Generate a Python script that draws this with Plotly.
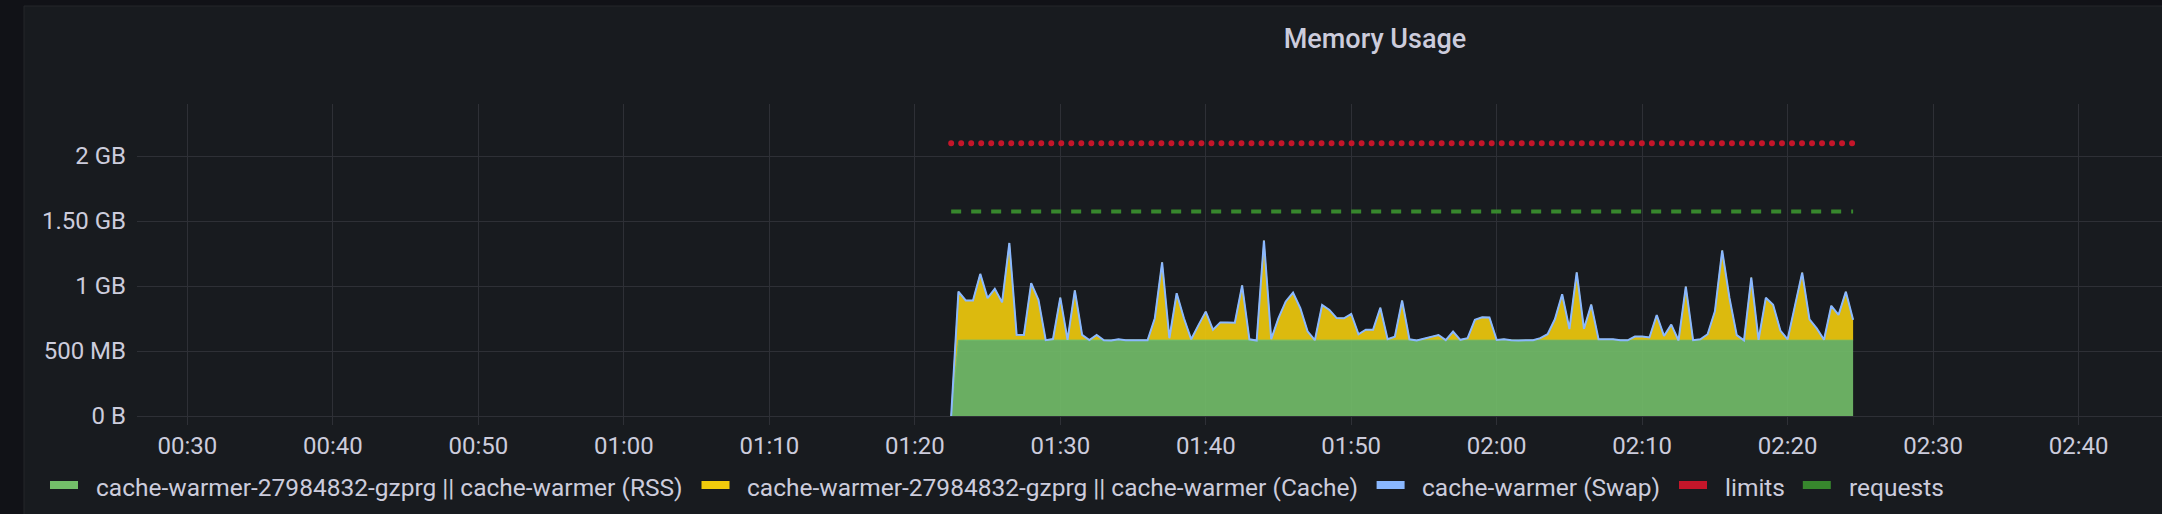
import pandas as pd
import plotly.graph_objects as go

# ---------------- data ----------------
times = pd.date_range("2023-03-18 01:22:30", periods=125, freq="30s")

# RSS (MB)
rss_mb = [0,
    583, 584, 584, 585, 584, 583, 584, 585, 583, 582, 583, 584, 583, 582, 582, 583, 584, 583, 582, 583,
    582, 581, 582, 583, 582, 581, 582, 583, 584, 583, 582, 583, 582, 581, 582, 583, 584, 583, 582, 583, 582,
    581, 582, 583, 584, 583, 582, 583, 584, 583, 582, 583, 584, 583, 582, 583, 582, 581, 582, 583, 582,
    583, 582, 581, 582, 583, 582, 581, 582, 583, 584, 583, 582, 581, 582, 583, 582, 581, 582, 583, 584, 583, 582,
    583, 582, 583, 584, 583, 582, 581, 582, 583, 582, 583, 584, 583, 582, 583, 582, 581, 582, 583, 582,
    583, 584, 583, 582, 581, 582, 583, 582, 583, 584, 583, 582, 583, 582, 581, 582, 583, 584, 583, 582, 583]

# Cache (MB)
cache_mb = [0,
    374, 305, 305, 508, 323, 395, 290, 746, 41, 41, 439, 310, 0, 10, 328, 3, 382, 41, 3, 41,
    0, 0, 8, 0, 0, 0, 0, 169, 598, 15, 362, 169, 8, 118, 221, 80, 136, 136, 136, 421, 8,
    0, 767, 8, 169, 298, 367, 246, 67, 0, 272, 233, 169, 169, 203, 46, 82, 82, 251, 8, 28,
    305, 8, 0, 13, 21, 41, 3, 67, 3, 15, 157, 177, 177, 3, 8, 0, 0, 0, 0, 15, 46, 162,
    354, 87, 521, 87, 274, 8, 8, 8, 0, 0, 28, 28, 21, 195, 33, 121, 0, 413, 0, 8,
    46, 221, 690, 326, 41, 0, 482, 3, 326, 272, 74, 8, 264, 521, 162, 92, 3, 264, 195, 374, 157]

# Swap (MB)
swap_mb = [0] * len(times)

# limits / requests (MB): 2000 MiB and 1500 MiB
limits_mb = [2097.152] * len(times)
requests_mb = [1572.864] * len(times)

y_tickvals = [0, 500, 1000, 1500, 2000]
y_ticktext = ["0 B", "500 MB", "1 GB", "1.50 GB", "2 GB"]

series_names = [
    "cache-warmer-27984832-gzprg || cache-warmer (RSS)",
    "cache-warmer-27984832-gzprg || cache-warmer (Cache)",
    "cache-warmer (Swap)",
    "limits",
    "requests",
]

# ---------------- style ----------------
W, H = 2162, 514
ML, MR, MT, MB = 137, 0, 104, 98
PW, PH = W - ML - MR, H - MT - MB
TEXT = "#ccccdc"
GRID = "#2e3036"
PANEL = "#181b1f"
PAGE = "#111217"
FONT = "Roboto"

def px_x(px):
    return (px - ML) / PW

def px_y(py):
    return (H - MB - py) / PH

fig = go.Figure()

fig.add_trace(go.Scatter(
    x=times, y=rss_mb, name=series_names[0], stackgroup="mem", mode="lines",
    line=dict(color="#73BF69", width=1), fillcolor="rgba(115,191,105,0.9)", showlegend=False))
fig.add_trace(go.Scatter(
    x=times, y=cache_mb, name=series_names[1], stackgroup="mem", mode="lines",
    line=dict(color="#F2CC0C", width=1), fillcolor="rgba(242,204,12,0.9)", showlegend=False))
fig.add_trace(go.Scatter(
    x=times, y=swap_mb, name=series_names[2], stackgroup="mem", mode="lines", fill="none",
    line=dict(color="#8AB8FF", width=2), showlegend=False))
fig.add_trace(go.Scatter(
    x=times, y=limits_mb, name=series_names[3], mode="lines",
    line=dict(color="#C4162A", width=5, dash="5px,5px"), showlegend=False))
fig.add_trace(go.Scatter(
    x=times, y=requests_mb, name=series_names[4], mode="lines",
    line=dict(color="#37872D", width=4, dash="10px,10px"), showlegend=False))

shapes = [
    # panel background
    dict(type="rect", xref="paper", yref="paper",
         x0=px_x(24), x1=px_x(W + 20), y0=px_y(6), y1=px_y(H + 20),
         fillcolor=PANEL, line=dict(color="#24262b", width=1), layer="below"),
]

legend_colors = ["#73BF69", "#F2CC0C", "#8AB8FF", "#C4162A", "#37872D"]
legend_swatch_px = [50, 701.5, 1376.6, 1679, 1802.8]
legend_text_px = [94, 745, 1420, 1722.7, 1846.5]
swatch_y = 485
text_y = 487

annotations = []
for name, col, sx, tx in zip(series_names, legend_colors, legend_swatch_px, legend_text_px):
    shapes.append(dict(type="rect", xref="paper", yref="paper",
                       x0=px_x(sx), x1=px_x(sx + 28), y0=px_y(swatch_y - 4), y1=px_y(swatch_y + 4),
                       fillcolor=col, line=dict(width=0), layer="above"))
    annotations.append(dict(text=name, xref="paper", yref="paper", x=px_x(tx), y=px_y(text_y),
                            xanchor="left", yanchor="middle", showarrow=False,
                            font=dict(family=FONT, size=24.5, color=TEXT)))

fig.update_layout(
    width=W, height=H,
    margin=dict(l=ML, r=MR, t=MT, b=MB, pad=0),
    paper_bgcolor=PAGE, plot_bgcolor="rgba(0,0,0,0)",
    font=dict(family=FONT, size=24, color=TEXT),
    title=dict(text="Memory Usage", x=1375 / W, xref="container", xanchor="center",
               y=1 - 39 / H, yref="container", yanchor="middle",
               font=dict(family=FONT, size=27, color=TEXT, weight=500)),
    showlegend=False,
    shapes=shapes,
    annotations=annotations,
    hovermode=False,
)

fig.update_xaxes(
    type="date",
    range=["2023-03-18 00:26:32", "2023-03-18 02:45:44"],
    tick0="2023-03-18 00:00:00", dtick=600000, tickformat="%H:%M",
    showgrid=True, gridcolor=GRID, gridwidth=1,
    ticks="outside", ticklen=8, tickcolor=GRID, tickwidth=1,
    zeroline=False, showline=False,
    tickfont=dict(family=FONT, size=24, color=TEXT),
)
fig.update_yaxes(
    range=[0, 2400],
    tickvals=y_tickvals, ticktext=y_ticktext,
    showgrid=True, gridcolor=GRID, gridwidth=1,
    zeroline=True, zerolinecolor=GRID, zerolinewidth=1,
    showline=False, ticks="",
    ticklabelstandoff=10,
    tickfont=dict(family=FONT, size=24, color=TEXT),
)

post = """
document.body.style.margin = '0';
document.body.style.background = '%s';
document.documentElement.style.background = '%s';
document.querySelectorAll('path.js-line').forEach(function (p) {
  var s = p.style.stroke || '';
  if (s.replace(/\\s/g, '') === 'rgb(196,22,42)') {
    p.style.strokeLinecap = 'round';
    p.style.strokeDasharray = '0.01px, 10px';
    p.style.strokeWidth = '6px';
  }
});
""" % (PAGE, PAGE)

fig.write_html("out.html", post_script=post, config={"displayModeBar": False, "staticPlot": True})
